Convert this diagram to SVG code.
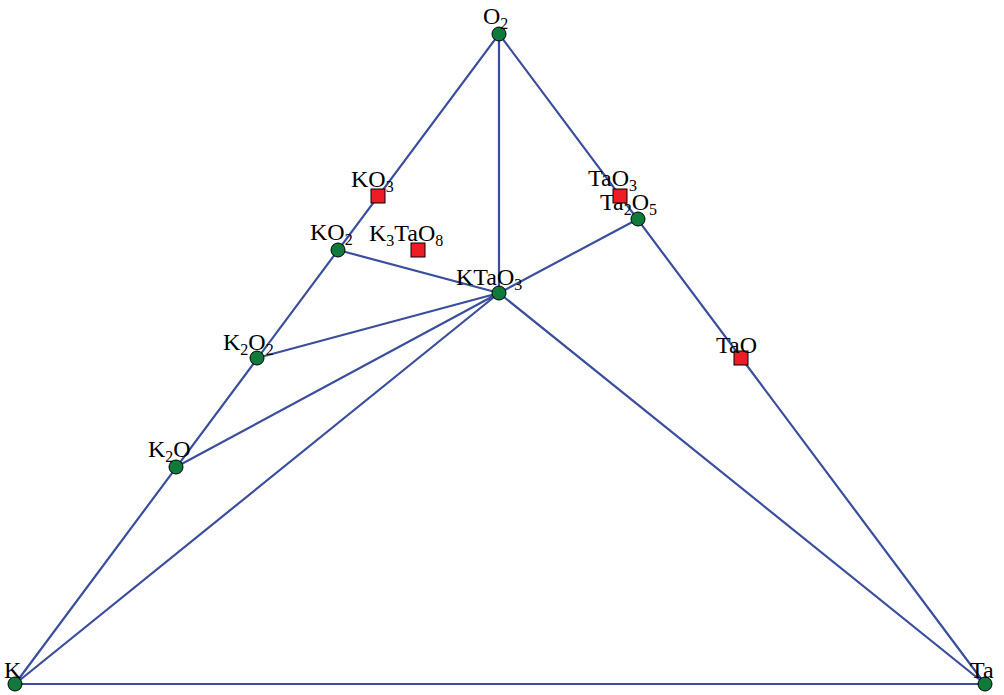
<svg xmlns="http://www.w3.org/2000/svg" width="1004" height="695" viewBox="0 0 1004 695">
<style>
.l{stroke:#3a4e9c;stroke-width:2.2;fill:none}
.n{fill:#0f7a3a;stroke:#000;stroke-width:1}
.s{fill:#ee1c24;stroke:#000;stroke-width:1}
text{font-family:"Liberation Serif",serif;font-size:24px;fill:#000}
.sub{font-size:16px}
</style>
<rect width="1004" height="695" fill="#fff"/>
<g id="connectors">
<path class="l" d="M15,684 L499,34 L985,684 Z"/>
<path class="l" d="M499,34 L499,293 M338,250 L499,293 M257,358 L499,293 M176,467 L499,293 M15,684 L499,293 M985,684 L499,293 M638,219 L499,293"/>
</g>
<g id="O2"><circle class="n" cx="499" cy="34" r="7"/><text x="483" y="24">O<tspan class="sub" dy="5">2</tspan></text></g>
<g id="K"><circle class="n" cx="15" cy="684" r="7"/><text x="4" y="678">K</text></g>
<g id="Ta"><circle class="n" cx="985" cy="684" r="7"/><text x="970" y="678">Ta</text></g>
<g id="KTaO3"><circle class="n" cx="499" cy="293" r="7"/><text x="456" y="285">KTaO<tspan class="sub" dy="5">3</tspan></text></g>
<g id="KO2"><circle class="n" cx="338" cy="250" r="7"/><text x="310" y="240">KO<tspan class="sub" dy="5">2</tspan></text></g>
<g id="K2O2"><circle class="n" cx="257" cy="358" r="7"/><text x="223" y="350">K<tspan class="sub" dy="5">2</tspan><tspan dy="-5">O</tspan><tspan class="sub" dy="5">2</tspan></text></g>
<g id="K2O"><circle class="n" cx="176" cy="467" r="7"/><text x="148" y="457">K<tspan class="sub" dy="5">2</tspan><tspan dy="-5">O</tspan></text></g>
<g id="Ta2O5"><circle class="n" cx="638" cy="219" r="7"/><text x="600" y="210">Ta<tspan class="sub" dy="5">2</tspan><tspan dy="-5">O</tspan><tspan class="sub" dy="5">5</tspan></text></g>
<g id="KO3"><rect class="s" x="371" y="189" width="14" height="14"/><text x="351" y="187">KO<tspan class="sub" dy="5">3</tspan></text></g>
<g id="K3TaO8"><rect class="s" x="411" y="243" width="14" height="14"/><text x="369" y="241">K<tspan class="sub" dy="5">3</tspan><tspan dy="-5">TaO</tspan><tspan class="sub" dy="5">8</tspan></text></g>
<g id="TaO3"><rect class="s" x="613" y="189" width="14" height="14"/><text x="588" y="186">TaO<tspan class="sub" dy="5">3</tspan></text></g>
<g id="TaO"><rect class="s" x="734" y="351" width="14" height="14"/><text x="716" y="353">TaO</text></g>
</svg>
